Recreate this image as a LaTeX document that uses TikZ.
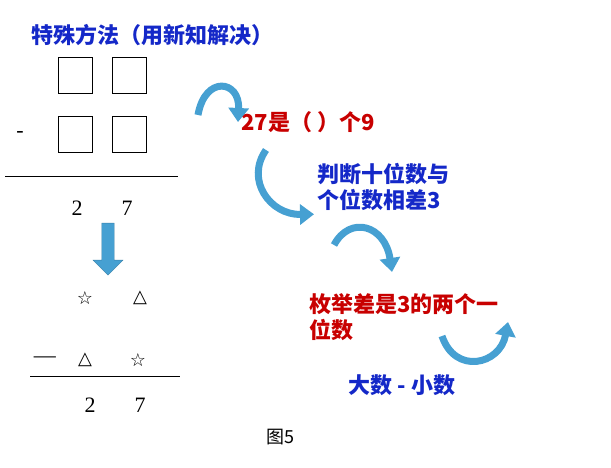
\documentclass[tikz,border=0pt]{standalone}
\usepackage{fontspec}
\setmainfont{Liberation Serif}
\newfontfamily\cjk{Noto Sans CJK SC}
\newfontfamily\symf{DejaVu Sans}
\usetikzlibrary{arrows.meta,shapes.arrows}
\definecolor{titleblue}{RGB}{20,40,200}
\definecolor{stepred}{RGB}{200,0,0}
\definecolor{arrowblue}{RGB}{70,160,210}
\begin{document}
\begin{tikzpicture}[x=1pt, y=-1pt,
    digit/.style={draw, line width=0.8pt, minimum width=34pt, minimum height=36pt},
    redtxt/.style={text=stepred, font=\cjk\bfseries\fontsize{22}{26}\selectfont, anchor=west},
    bluetxt/.style={text=titleblue, font=\cjk\bfseries\fontsize{22}{26}\selectfont, anchor=west},
    num/.style={font=\fontsize{22}{24}\selectfont},
    sym/.style={font=\symf\fontsize{18}{20}\selectfont},
    curvearrow/.style={arrowblue, line width=7pt, -{Triangle[length=14pt, width=20pt]}}
]
\useasboundingbox (0,0) rectangle (611,468);

\node[bluetxt] (title) at (28,35) {特殊方法（用新知解决）};

% vertical subtraction with boxes
\node[digit] (a1) at (75,75) {};
\node[digit] (a2) at (129,75) {};
\node[digit] (b1) at (75,134) {};
\node[digit] (b2) at (129,134) {};
\node[num] (minus1) at (20,134) {-};
\draw[line width=0.8pt] (5,176) -- (178,176);
\node[num] (r1) at (77,208) {2};
\node[num] (r2) at (127,208) {7};

\node[single arrow, draw=arrowblue!80!black, fill=arrowblue, rotate=-90,
      minimum height=52pt, minimum width=30pt, single arrow head extend=5pt] (down) at (108,246) {};

% vertical subtraction with symbols
\node[sym] (s1) at (85,298) {☆};
\node[sym] (s2) at (140,298) {△};
\node[num] (minus2) at (45,360) {—};
\node[sym] (s3) at (85,360) {△};
\node[sym] (s4) at (138,360) {☆};
\draw[line width=0.8pt] (30,376) -- (180,376);
\node[num] (r3) at (90,405) {2};
\node[num] (r4) at (140,405) {7};

% steps
\node[redtxt] (step1) at (238,122) {27是（ ）个9};
\node[bluetxt, align=left] (step2) at (314,187) {判断十位数与\\个位数相差3};
\node[redtxt, align=left] (step3) at (306,317) {枚举差是3的两个一\\位数};
\node[bluetxt] (step4) at (345,385) {大数 - 小数};

\coordinate (c1) at (198,115);
\coordinate (c2) at (266,150);
\coordinate (c3) at (334,245);
\coordinate (c4) at (442,336);
\draw[curvearrow] (c1) .. controls (205,75) and (240,80) .. (step1.west);
\draw[curvearrow] (c2) .. controls (245,180) and (270,215) .. (step2.south west);
\draw[curvearrow] (c3) .. controls (350,215) and (385,225) .. (392,272);
\draw[curvearrow] (c4) .. controls (455,375) and (500,365) .. (508,322);

\node[font=\cjk\fontsize{18}{20}\selectfont] (cap) at (280,437) {图5};
\end{tikzpicture}
\end{document}
